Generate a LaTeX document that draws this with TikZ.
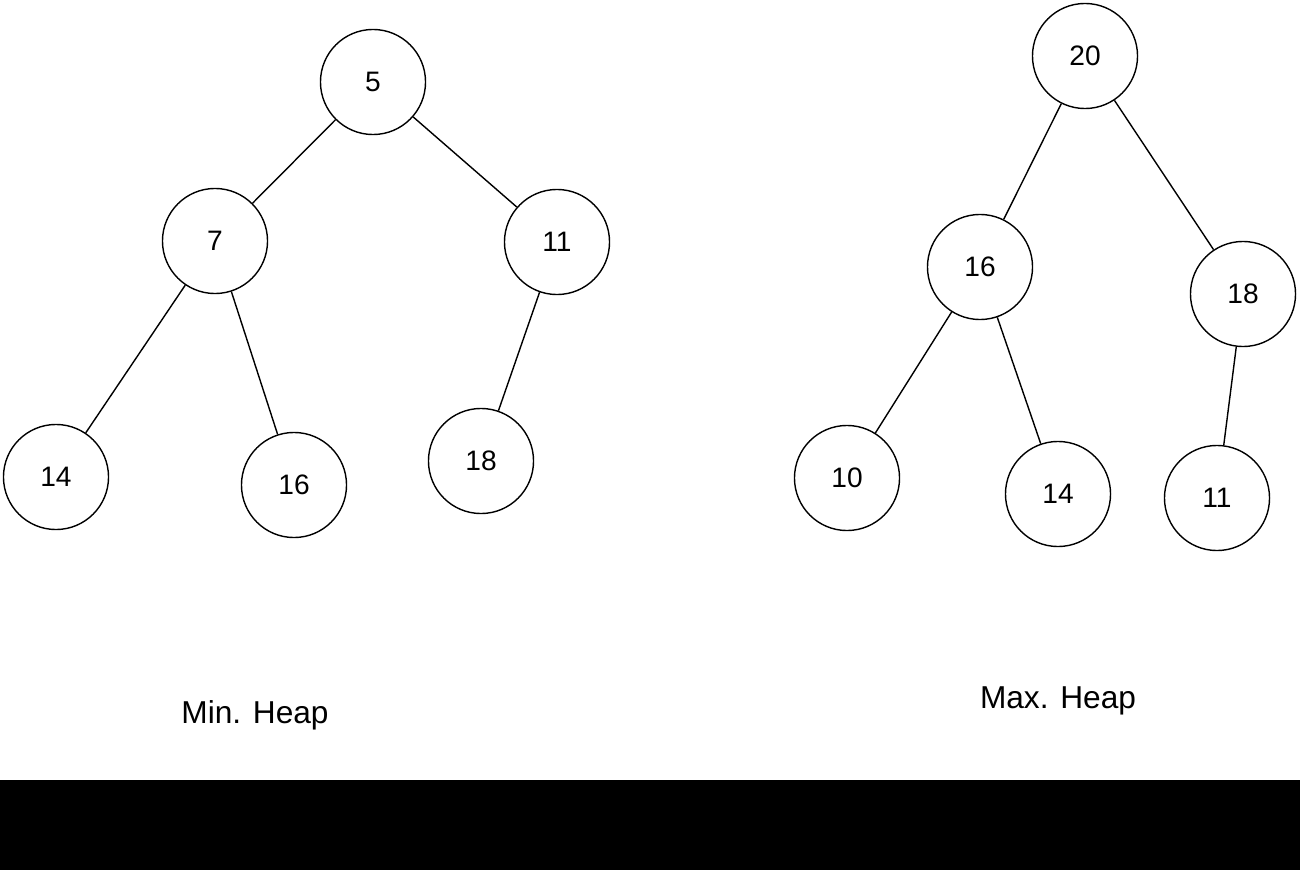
\documentclass[tikz,border=0pt]{standalone}
\usepackage{fontspec}
\setmainfont{Liberation Sans}
\tikzset{heapnode/.style={circle,draw,thin,minimum size=1.05cm,inner sep=0pt,font=\fontsize{8}{9}\selectfont},
  heaplabel/.style={font=\fontsize{9}{10}\selectfont}}
\begin{document}
\begin{tikzpicture}[x=0.01cm,y=-0.01cm]
\useasboundingbox (0,0) rectangle (1300,870);
\fill [black] (0,780) rectangle (1300,870);
% min heap
\node [heapnode] (mina) at (373,82)  {5};
\node [heapnode] (minb) at (215,241) {7};
\node [heapnode] (minc) at (557,242) {11};
\node [heapnode] (mind) at (56,477)  {14};
\node [heapnode] (mine) at (294,485) {16};
\node [heapnode] (minf) at (481,461) {18};
\draw (mina) -- (minb);
\draw (mina) -- (minc);
\draw (minb) -- (mind);
\draw (minb) -- (mine);
\draw (minc) -- (minf);
\node [heaplabel] (minlabel) at (255,715) {Min. Heap};
% max heap
\node [heapnode] (maxa) at (1085,56)  {20};
\node [heapnode] (maxb) at (980,267)  {16};
\node [heapnode] (maxc) at (1243,294) {18};
\node [heapnode] (maxd) at (847,478)  {10};
\node [heapnode] (maxe) at (1058,494) {14};
\node [heapnode] (maxf) at (1217,498) {11};
\draw (maxa) -- (maxb);
\draw (maxa) -- (maxc);
\draw (maxb) -- (maxd);
\draw (maxb) -- (maxe);
\draw (maxc) -- (maxf);
\node [heaplabel] (maxlabel) at (1058,701) {Max. Heap};
\end{tikzpicture}
\end{document}
